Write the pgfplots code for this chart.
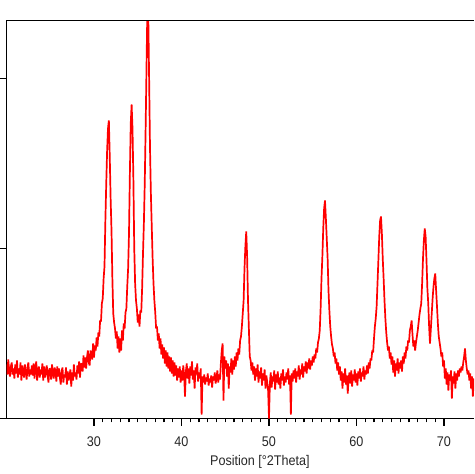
\documentclass[border=0pt]{standalone}
\usepackage{fontspec}
\setmainfont{Liberation Sans}
\newfontfamily\lblfont{Liberation Sans}[FakeStretch=0.9]
\usepackage{pgfplots}
\pgfplotsset{compat=1.18}
\begin{document}
\begin{tikzpicture}
\path[use as bounding box] (-3.25pt,-27.75pt) rectangle (233.75pt,209.25pt);
\begin{axis}[
  name=ax,
  at={(0pt,0pt)}, anchor=south west,
  scale only axis, width=233.75pt, height=199pt,
  xmin=20, xmax=73.43, ymin=0, ymax=398,
  axis x line*=bottom, axis y line*=left,
  axis line style={line width=0.8pt, black, -},
  xtick={30,40,50,60,70}, minor x tick num=9,
  ytick={0,170,340}, yticklabels={},
  tick align=outside, major tick length=3.75pt, minor tick length=2pt,
  every tick/.style={black, line width=0.6pt},
  /pgf/number format/assume math mode=true,
  xticklabel style={font=\lblfont\fontsize{7}{8}\selectfont, yshift=-2pt, text=black!85},
  xlabel={Position [°2Theta]},
  xlabel style={at={(axis description cs:0.542,0)}, anchor=center, yshift=-21.6pt, font=\lblfont\fontsize{7}{8}\selectfont, text=black!85},
]
\addplot[red, line width=0.85pt, line join=miter, miter limit=2] coordinates {
(20.0,54)(20.1,44)(20.2,59)(20.3,48)(20.4,42)(20.5,52)(20.6,56)(20.7,44)(20.8,50)(20.9,40)
(21.0,54)(21.1,45)(21.2,58)(21.3,41)(21.4,50)(21.5,44)(21.6,56)(21.7,38)(21.8,53)(21.9,48)
(22.0,41)(22.1,54)(22.2,46)(22.3,39)(22.4,51)(22.5,56)(22.6,42)(22.7,49)(22.8,44)(22.9,53)
(23.0,43)(23.1,55)(23.2,40)(23.3,50)(23.4,57)(23.5,38)(23.6,48)(23.7,52)(23.8,41)(23.9,49)
(24.0,44)(24.1,55)(24.2,38)(24.3,52)(24.4,41)(24.5,46)(24.6,53)(24.7,43)(24.8,36)(24.9,50)
(25.0,49)(25.1,39)(25.2,54)(25.3,45)(25.4,40)(25.5,51)(25.6,47)(25.7,37)(25.8,52)(25.9,42)
(26.0,50)(26.1,41)(26.2,34)(26.3,47)(26.4,51)(26.5,36)(26.6,44)(26.7,41)(26.8,51)(26.9,34)
(27.0,47)(27.1,38)(27.2,42)(27.3,49)(27.4,32)(27.5,46)(27.6,38)(27.7,54)(27.8,42)(27.9,46)
(28.0,39)(28.1,53)(28.2,45)(28.3,57)(28.4,41)(28.5,55)(28.6,54)(28.7,47)(28.8,63)(28.9,51)
(29.0,61)(29.1,50)(29.2,61)(29.3,68)(29.4,56)(29.5,53)(29.6,68)(29.7,64)(29.8,59)(29.9,75)
(30.0,61)(30.1,73)(30.2,68)(30.3,81)(30.4,72)(30.5,86)(30.6,82)(30.7,98)(30.8,97)(30.9,115)
(31.0,120)(31.1,140)(31.2,152)(31.3,198)(31.4,235)(31.5,268)(31.6,290)(31.7,298)(31.8,262)(31.9,220)
(32.0,188)(32.1,140)(32.2,105)(32.3,96)(32.4,90)(32.5,80)(32.6,87)(32.7,70)(32.8,82)(32.9,66)
(33.0,80)(33.1,68)(33.2,88)(33.3,78)(33.4,95)(33.5,90)(33.6,106)(33.7,110)(33.8,132)(33.9,150)
(34.0,185)(34.1,245)(34.2,295)(34.3,314)(34.4,290)(34.5,240)(34.6,170)(34.7,135)(34.8,118)(34.9,110)
(35.0,96)(35.1,104)(35.2,92)(35.3,108)(35.4,106)(35.5,130)(35.6,165)(35.7,195)(35.8,235)(35.9,290)
(36.0,350)(36.1,410)(36.2,405)(36.3,340)(36.4,271)(36.5,225)(36.6,192)(36.7,160)(36.8,135)(36.9,118)
(37.0,106)(37.1,90)(37.2,92)(37.3,78)(37.4,85)(37.5,70)(37.6,80)(37.7,64)(37.8,74)(37.9,60)
(38.0,71)(38.1,55)(38.2,68)(38.3,52)(38.4,66)(38.5,50)(38.6,62)(38.7,47)(38.8,61)(38.9,45)
(39.0,58)(39.1,42)(39.2,56)(39.3,43)(39.4,53)(39.5,38)(39.6,50)(39.7,41)(39.8,52)(39.9,36)
(40.0,48)(40.1,38)(40.2,53)(40.3,44)(40.4,22)(40.5,47)(40.6,55)(40.7,40)(40.8,50)(40.9,35)
(41.0,52)(41.1,43)(41.2,57)(41.3,39)(41.4,48)(41.5,30)(41.6,51)(41.7,44)(41.8,55)(41.9,37)
(42.0,46)(42.1,40)(42.2,50)(42.3,4)(42.4,42)(42.5,36)(42.6,44)(42.7,34)(42.8,41)(42.9,37)
(43.0,45)(43.1,33)(43.2,40)(43.3,36)(43.4,43)(43.5,31)(43.6,42)(43.7,38)(43.8,46)(43.9,35)
(44.0,40)(44.1,48)(44.2,36)(44.3,44)(44.4,39)(44.5,55)(44.6,68)(44.7,75)(44.8,18)(44.9,62)
(45.0,50)(45.1,58)(45.2,42)(45.3,55)(45.4,30)(45.5,52)(45.6,46)(45.7,60)(45.8,44)(45.9,58)
(46.0,49)(46.1,62)(46.2,52)(46.3,66)(46.4,58)(46.5,70)(46.6,64)(46.7,78)(46.8,82)(46.9,92)
(47.0,105)(47.1,118)(47.2,150)(47.3,172)(47.4,187)(47.5,162)(47.6,118)(47.7,90)(47.8,62)(47.9,58)
(48.0,48)(48.1,56)(48.2,44)(48.3,52)(48.4,38)(48.5,50)(48.6,42)(48.7,54)(48.8,36)(48.9,47)
(49.0,40)(49.1,51)(49.2,33)(49.3,45)(49.4,38)(49.5,49)(49.6,30)(49.7,43)(49.8,36)(49.9,28)
(50.0,0)(50.1,35)(50.2,46)(50.3,31)(50.4,42)(50.5,37)(50.6,48)(50.7,29)(50.8,44)(50.9,36)
(51.0,47)(51.1,34)(51.2,41)(51.3,30)(51.4,45)(51.5,38)(51.6,49)(51.7,33)(51.8,42)(51.9,36)
(52.0,46)(52.1,39)(52.2,50)(52.3,34)(52.4,43)(52.5,4)(52.6,45)(52.7,37)(52.8,48)(52.9,40)
(53.0,50)(53.1,36)(53.2,47)(53.3,42)(53.4,53)(53.5,39)(53.6,49)(53.7,44)(53.8,55)(53.9,41)
(54.0,52)(54.1,47)(54.2,57)(54.3,45)(54.4,56)(54.5,50)(54.6,60)(54.7,49)(54.8,58)(54.9,53)
(55.0,62)(55.1,56)(55.2,64)(55.3,60)(55.4,70)(55.5,66)(55.6,76)(55.7,80)(55.8,88)(55.9,110)
(56.0,140)(56.1,162)(56.2,190)(56.3,210)(56.4,218)(56.5,200)(56.6,180)(56.7,160)(56.8,128)(56.9,108)
(57.0,92)(57.1,82)(57.2,74)(57.3,70)(57.4,62)(57.5,66)(57.6,55)(57.7,60)(57.8,48)(57.9,56)
(58.0,44)(58.1,52)(58.2,38)(58.3,47)(58.4,30)(58.5,45)(58.6,36)(58.7,50)(58.8,34)(58.9,43)
(59.0,25)(59.1,40)(59.2,46)(59.3,35)(59.4,48)(59.5,32)(59.6,44)(59.7,38)(59.8,49)(59.9,36)
(60.0,45)(60.1,33)(60.2,47)(60.3,40)(60.4,50)(60.5,37)(60.6,46)(60.7,42)(60.8,52)(60.9,39)
(61.0,48)(61.1,44)(61.2,53)(61.3,45)(61.4,56)(61.5,50)(61.6,60)(61.7,58)(61.8,68)(61.9,66)
(62.0,80)(62.1,92)(62.2,100)(62.3,112)(62.4,135)(62.5,158)(62.6,182)(62.7,198)(62.8,202)(62.9,185)
(63.0,160)(63.1,140)(63.2,118)(63.3,100)(63.4,86)(63.5,76)(63.6,68)(63.7,72)(63.8,60)(63.9,66)
(64.0,54)(64.1,62)(64.2,46)(64.3,58)(64.4,42)(64.5,55)(64.6,48)(64.7,60)(64.8,45)(64.9,56)
(65.0,50)(65.1,58)(65.2,47)(65.3,62)(65.4,55)(65.5,66)(65.6,60)(65.7,72)(65.8,68)(65.9,78)
(66.0,76)(66.1,88)(66.2,92)(66.3,98)(66.4,84)(66.5,72)(66.6,78)(66.7,68)(66.8,76)(66.9,82)
(67.0,88)(67.1,96)(67.2,104)(67.3,110)(67.4,115)(67.5,135)(67.6,160)(67.7,178)(67.8,190)(67.9,182)
(68.0,158)(68.1,130)(68.2,115)(68.3,92)(68.4,75)(68.5,90)(68.6,105)(68.7,120)(68.8,132)(68.9,140)
(69.0,145)(69.1,128)(69.2,112)(69.3,95)(69.4,82)(69.5,76)(69.6,70)(69.7,62)(69.8,66)(69.9,52)
(70.0,58)(70.1,40)(70.2,50)(70.3,34)(70.4,46)(70.5,28)(70.6,44)(70.7,38)(70.8,48)(70.9,20)
(71.0,42)(71.1,35)(71.2,47)(71.3,30)(71.4,45)(71.5,38)(71.6,48)(71.7,42)(71.8,50)(71.9,46)
(72.0,52)(72.1,48)(72.2,56)(72.3,62)(72.4,70)(72.5,58)(72.6,50)(72.7,44)(72.8,48)(72.9,38)
(73.0,45)(73.1,30)(73.2,42)(73.3,22)(73.4,40)
};
\end{axis}
\draw[line width=0.8pt] (ax.north west) -- (ax.north east);
\end{tikzpicture}
\end{document}
